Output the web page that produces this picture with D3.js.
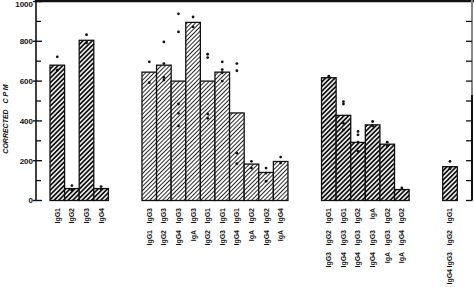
<!DOCTYPE html>
<html>
<head>
<meta charset="utf-8">
<script src="https://cdn.jsdelivr.net/npm/d3@7"></script>
<style>
  body { margin: 0; background: #fff; }
  svg { display: block; }
  text { font-family: "Liberation Sans", Arial, sans-serif; font-weight: bold; fill: #111; }
</style>
</head>
<body>
<svg id="chart"></svg>
<script>
// groups of bars, labels read bottom-to-top (last word on top)
var groupLabels = [
  ["IgG1", "IgG2", "IgG3", "IgG4"],
  ["IgG1 IgG3", "IgG2 IgG3", "IgG4 IgG3", "IgA IgG3", "IgG2 IgG1",
   "IgG3 IgG1", "IgG4 IgG1", "IgA IgG2", "IgG4 IgG2", "IgA IgG4"],
  ["IgG3 IgG2 IgG1", "IgG4 IgG3 IgG1", "IgG4 IgG3 IgG2", "IgG4 IgG3 IgA",
   "IgA IgG3 IgG2", "IgA IgG4 IgG2"],
  ["IgG4 IgG3 IgG2 IgG1"]
];
var groupValues = [
  [680, 60, 805, 60],
  [645, 680, 600, 895, 600, 645, 440, 183, 141, 196],
  [617, 428, 292, 380, 283, 55],
  [170]
];
// individual points per bar
var groupDots = [
  [[722, 655], [75, 52], [833, 792], [70, 55]],
  [[697, 592], [797, 688, 618, 605], [938, 847, 485, 438, 375], [922, 872],
   [735, 718, 435, 413], [697, 658, 642, 600], [688, 652, 238, 185],
   [197, 163], [163, 138, 97], [218, 188]],
  [[625, 620], [497, 485, 388, 355], [347, 330, 293, 247], [397, 375],
   [293, 275], [63]],
  [[197, 163, 160]]
];
var groupStyle = ["dark", "light", "dark", "dark"];
var yTicks = [0, 200, 400, 600, 800, 1000];

var width = 474, height = 287;
var gap = 2.3; // gap between groups, in bar widths

var svg = d3.select("#chart").attr("width", width).attr("height", height);

// hatch patterns
var defs = svg.append("defs");
function hatch(id, spacing, sw) {
  var p = defs.append("pattern")
    .attr("id", id)
    .attr("patternUnits", "userSpaceOnUse")
    .attr("width", spacing).attr("height", spacing)
    .attr("patternTransform", "rotate(45)");
  p.append("rect").attr("width", spacing).attr("height", spacing).attr("fill", "#fff");
  // line in the middle of the tile so the stroke is not clipped
  p.append("line")
    .attr("x1", spacing / 2).attr("y1", 0).attr("x2", spacing / 2).attr("y2", spacing)
    .attr("stroke", "#111").attr("stroke-width", sw);
}
hatch("dark", 3.3, 1.8);
hatch("light", 3, 0.9);

// flatten bars with slot positions
var bars = [];
var slot = 0;
groupLabels.forEach(function(labels, g) {
  labels.forEach(function(lab, i) {
    bars.push({
      label: lab,
      value: groupValues[g][i],
      dots: groupDots[g][i],
      style: groupStyle[g],
      slot: slot
    });
    slot += 1;
  });
  slot += gap;
});
var totalSlots = slot - gap;

var x = d3.scaleLinear().domain([0, totalSlots]).range([50, 457.3]);
var y = d3.scaleLinear().domain([0, 1000]).range([200.5, 1.5]);
var bw = x(1) - x(0);

// top frame line
svg.append("line")
  .attr("x1", 35).attr("x2", width).attr("y1", 1).attr("y2", 1)
  .attr("stroke", "#111").attr("stroke-width", 2.5);

// left axis
var axisG = svg.append("g");
axisG.append("line")
  .attr("x1", 36).attr("x2", 36).attr("y1", y(1000)).attr("y2", y(0))
  .attr("stroke", "#111").attr("stroke-width", 1.6);
axisG.selectAll(".minor")
  .data(d3.range(100, 1000, 200))
  .enter().append("line")
  .attr("x1", 36).attr("x2", 41)
  .attr("y1", function(d) { return y(d); }).attr("y2", function(d) { return y(d); })
  .attr("stroke", "#111").attr("stroke-width", 1.3);
axisG.selectAll(".major")
  .data(yTicks)
  .enter().append("line")
  .attr("x1", 33).attr("x2", 42)
  .attr("y1", function(d) { return y(d); }).attr("y2", function(d) { return y(d); })
  .attr("stroke", "#111").attr("stroke-width", 1.4);
axisG.selectAll("text")
  .data(yTicks)
  .enter().append("text")
  .attr("x", 33).attr("y", function(d) { return Math.max(y(d), 4); })
  .attr("dy", "0.35em")
  .attr("text-anchor", "end")
  .style("font-size", "8px")
  .text(function(d) { return d; });

svg.append("text")
  .attr("transform", "translate(8,119) rotate(-90)")
  .attr("text-anchor", "middle")
  .style("font-size", "7px")
  .style("font-style", "italic")
  .style("white-space", "pre")
  .text("CORRECTED   C P M");

// right axis
var rx = 472;
svg.append("line")
  .attr("x1", rx).attr("x2", rx).attr("y1", 0).attr("y2", y(530))
  .attr("stroke", "#888").attr("stroke-width", 2);
svg.append("line")
  .attr("x1", rx).attr("x2", rx).attr("y1", y(530)).attr("y2", y(0))
  .attr("stroke", "#111").attr("stroke-width", 2);
svg.selectAll(".rtick")
  .data(d3.range(0, 1000, 100))
  .enter().append("line")
  .attr("x1", rx - 6).attr("x2", rx)
  .attr("y1", function(d) { return y(d); }).attr("y2", function(d) { return y(d); })
  .attr("stroke", "#111").attr("stroke-width", 1.3);

// bars
svg.selectAll(".bar")
  .data(bars)
  .enter().append("rect")
  .attr("x", function(d) { return x(d.slot); })
  .attr("width", bw)
  .attr("y", function(d) { return y(d.value); })
  .attr("height", function(d) { return y(0) - y(d.value); })
  .attr("fill", function(d) { return "url(#" + d.style + ")"; })
  .attr("stroke", "#111")
  .attr("stroke-width", 1.3);

// dots
bars.forEach(function(b) {
  svg.selectAll(null)
    .data(b.dots)
    .enter().append("circle")
    .attr("cx", x(b.slot + 0.5))
    .attr("cy", function(d) { return y(d); })
    .attr("r", 1.4)
    .attr("fill", "#111");
});

// labels: each word on its own slot, top word = last word
var wordTops = [208, 230, 252, 269];
bars.forEach(function(b) {
  var words = b.label.split(" ").reverse();
  svg.selectAll(null)
    .data(words)
    .enter().append("text")
    .attr("transform", function(d, i) {
      return "translate(" + x(b.slot + 0.5) + "," + wordTops[i] + ") rotate(-90)";
    })
    .attr("text-anchor", "end")
    .attr("dy", "0.35em")
    .style("font-size", "7px")
    .text(function(d) { return d; });
});
</script>
</body>
</html>
